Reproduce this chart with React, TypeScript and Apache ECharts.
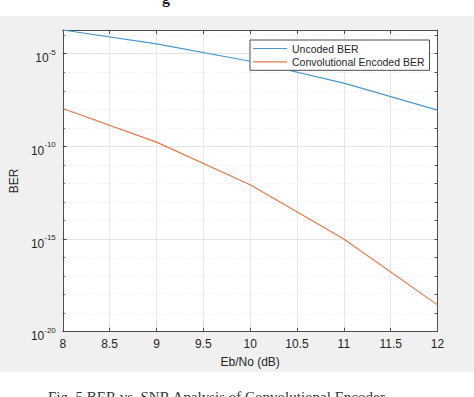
import React, { useEffect, useRef } from "react";
import * as echarts from "echarts";

const ebNo = [8, 9, 10, 11, 12];
const uncodedBER = [1.9e-4, 3.4e-5, 3.9e-6, 2.6e-7, 9.0e-9];
const convBER = [1.1e-8, 1.7e-10, 8.5e-13, 1.0e-15, 2.8e-19];
const seriesNames = ["Uncoded BER", "Convolutional Encoded BER"];
const yMinExp = -20;
const captionText = "Fig. 5 BER vs. SNR Analysis of Convolutional Encoder";

const SANS = '"Liberation Sans", Arial, Helvetica, sans-serif';
const AXIS_COLOR = "#4d4d4d";
const TEXT_COLOR = "#262626";
const BLUE = "#4a97cf";
const ORANGE = "#e2784a";

export default function App() {
  const ref = useRef<HTMLDivElement>(null);
  useEffect(() => {
    if (!ref.current) return;
    const chart = echarts.init(ref.current, null, { renderer: "svg" });
    const yMaxExp = Math.log10(Math.max(...uncodedBER, ...convBER));
    const toPts = (arr: number[]) => ebNo.map((x, i) => [x, Math.log10(arr[i])]);
    const lineIcon = "path://M0,0 L34,0 L34,1.2 L0,1.2 Z";
    chart.setOption({
      animation: false,
      backgroundColor: "#ffffff",
      textStyle: { fontFamily: SANS },
      grid: {
        left: 56,
        top: 30,
        right: 36.5,
        bottom: 65.3,
        show: true,
        backgroundColor: "#ffffff",
        borderWidth: 0,
      },
      legend: {
        orient: "vertical",
        left: 250,
        top: 40,
        backgroundColor: "#ffffff",
        borderColor: AXIS_COLOR,
        borderWidth: 1,
        borderRadius: 0,
        padding: [3, 5, 3, 3],
        itemWidth: 34,
        itemHeight: 12,
        itemGap: 2.3,
        symbolKeepAspect: true,
        textStyle: { fontSize: 10.5, color: TEXT_COLOR, fontFamily: SANS },
        data: seriesNames.map((n) => ({ name: n, icon: lineIcon })),
      },
      xAxis: [
        {
          type: "value",
          position: "bottom",
          min: 8,
          max: 12,
          interval: 0.5,
          axisLine: { show: true, lineStyle: { color: AXIS_COLOR, width: 1 } },
          axisTick: { show: true, inside: true, length: 4, lineStyle: { color: AXIS_COLOR } },
          axisLabel: { margin: 6, fontSize: 12, color: TEXT_COLOR, fontFamily: SANS },
          splitLine: { show: true, lineStyle: { color: "#e6e6e6", width: 1 } },
          name: "Eb/No (dB)",
          nameLocation: "middle",
          nameGap: 24,
          nameTextStyle: { fontSize: 12, color: TEXT_COLOR, fontFamily: SANS },
        },
        {
          type: "value",
          position: "top",
          min: 8,
          max: 12,
          interval: 0.5,
          axisLine: { show: true, lineStyle: { color: AXIS_COLOR, width: 1 } },
          axisTick: { show: true, inside: true, length: 4, lineStyle: { color: AXIS_COLOR } },
          axisLabel: { show: false },
          splitLine: { show: false },
        },
      ],
      yAxis: [
        {
          type: "value",
          position: "left",
          min: yMinExp,
          max: yMaxExp,
          interval: 5,
          axisLine: { show: true, lineStyle: { color: AXIS_COLOR, width: 1 } },
          axisTick: { show: true, inside: true, length: 4, lineStyle: { color: AXIS_COLOR } },
          axisLabel: {
            showMaxLabel: false,
            margin: 7,
            padding: [5, 0, 0, 0],
            color: TEXT_COLOR,
            formatter: (v: number) => `{b|10}{s|${Math.round(v)}}`,
            rich: {
              b: { fontSize: 12, lineHeight: 16, verticalAlign: "bottom", color: TEXT_COLOR, fontFamily: SANS },
              s: { fontSize: 8, lineHeight: 9, verticalAlign: "top", color: TEXT_COLOR, fontFamily: SANS },
            },
          },
          splitLine: { show: true, lineStyle: { color: "#e3e3e3", width: 1 } },
          name: "BER",
          nameLocation: "middle",
          nameGap: 38,
          nameTextStyle: { fontSize: 12, color: TEXT_COLOR, fontFamily: SANS },
        },
        {
          type: "value",
          position: "left",
          min: yMinExp,
          max: yMaxExp,
          interval: 1,
          axisLine: { show: false },
          axisTick: { show: true, inside: true, length: 2, lineStyle: { color: AXIS_COLOR } },
          axisLabel: { show: false },
          splitLine: { show: true, lineStyle: { color: "#e8e8e8", width: 1, type: [1, 2] } },
        },
        {
          type: "value",
          position: "right",
          min: yMinExp,
          max: yMaxExp,
          interval: 1,
          axisLine: { show: true, lineStyle: { color: AXIS_COLOR, width: 1 } },
          axisTick: { show: true, inside: true, length: 3, lineStyle: { color: AXIS_COLOR } },
          axisLabel: { show: false },
          splitLine: { show: false },
        },
      ],
      series: [
        {
          name: seriesNames[0],
          type: "line",
          xAxisIndex: 0,
          yAxisIndex: 0,
          symbol: "none",
          data: toPts(uncodedBER),
          lineStyle: { color: BLUE, width: 1.2 },
          itemStyle: { color: BLUE },
        },
        {
          name: seriesNames[1],
          type: "line",
          xAxisIndex: 0,
          yAxisIndex: 0,
          symbol: "none",
          data: toPts(convBER),
          lineStyle: { color: ORANGE, width: 1.2 },
          itemStyle: { color: ORANGE },
        },
      ],
      graphic: [
        {
          type: "rect",
          z: -100,
          silent: true,
          shape: { x: 0, y: 16, width: 474, height: 356 },
          style: { fill: "#f0f0f0" },
        },
        {
          type: "text",
          x: 162,
          y: 5,
          silent: true,
          style: {
            text: "g",
            fontSize: 16,
            fontWeight: "bold",
            fontFamily: '"Liberation Serif", "Times New Roman", serif',
            fill: "#222",
            verticalAlign: "bottom",
          },
        },
        {
          type: "text",
          x: 48,
          y: 389,
          silent: true,
          style: {
            text: captionText,
            fontSize: 15,
            fontFamily: '"Liberation Serif", "Times New Roman", serif',
            fill: "#333",
            verticalAlign: "top",
          },
        },
      ],
    });
    return () => chart.dispose();
  }, []);
  return (
    <div
      ref={ref}
      style={{ position: "fixed", left: 0, top: 0, width: 474, height: 397, background: "#fff" }}
    />
  );
}
